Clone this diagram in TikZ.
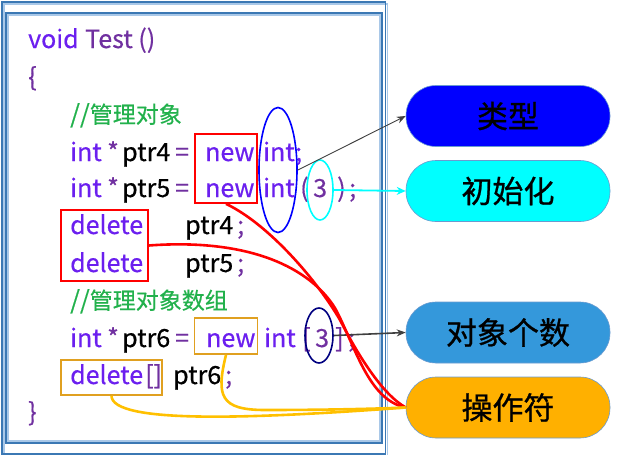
\documentclass[tikz,border=0pt]{standalone}
\usepackage{fontspec}
\setmainfont{Carlito}
\newfontfamily\cjk[FakeBold=0.5]{Noto Sans CJK SC}
\newfontfamily\cjklab[FakeBold=0.8]{Noto Sans CJK SC}
\usetikzlibrary{shapes.geometric,arrows.meta}
\definecolor{kw}{HTML}{6B1FEF}
\definecolor{pur}{HTML}{7030A0}
\definecolor{cm}{HTML}{22B14C}
\definecolor{fr}{HTML}{3B78B4}
\definecolor{frl}{HTML}{A9C8E8}
\definecolor{redl}{HTML}{FF0000}
\definecolor{orl}{HTML}{FFC000}
\definecolor{obox}{HTML}{E0A020}
\definecolor{tbox}{HTML}{3498DB}
\definecolor{obg}{HTML}{FFB000}
\definecolor{arr}{HTML}{404040}
\definecolor{bord}{HTML}{6A9BD0}
\definecolor{cyn}{HTML}{00FFFF}
\definecolor{blu}{HTML}{0000FF}
\definecolor{nav}{HTML}{000080}
\tikzset{
  code/.style={font=\fontsize{25}{30}\selectfont\cjk, anchor=base west, inner sep=0pt},
  label/.style={rectangle, rounded corners=30pt, minimum width=204pt, minimum height=61pt,
    draw=bord, line width=0.6pt, font=\fontsize{31}{36}\selectfont\cjklab, text=black},
  rbox/.style={draw=redl, line width=1.6pt, inner sep=0pt},
  obx/.style={draw=obox, line width=1.6pt, inner sep=0pt},
  ell/.style={ellipse, inner sep=0pt, line width=1.6pt},
  redc/.style={draw=redl, line width=2.6pt},
  orc/.style={draw=orl, line width=2.6pt},
  garrow/.style={draw=arr, -{Stealth[length=9pt,width=7pt]}},
}
\begin{document}
\begin{tikzpicture}[x=1pt,y=-1pt]
\useasboundingbox (0,0) rectangle (622,455);
% frames
\draw[frl, line width=1.2pt] (4,4) rectangle (387.5,456);
\draw[fr, line width=1.4pt] (2,2) rectangle (385.5,454);
\draw[frl, line width=1.6pt] (8,15) rectangle (380,441);
\draw[fr, line width=1.8pt] (6,13) rectangle (382,443);
% code
\node[code] (l1a) at (28,48) {\color{kw}void};
\node[code] (l1b) at (85,48) {\color{pur}Test ()};
\node[code] (l2) at (28,86) {\color{pur}\{};
\node[code] (l3) at (70,123) {\color{cm}//{\fontsize{23}{28}\selectfont 管理对象}};
\node[code] (l4a) at (70,161) {\color{kw}int};
\node[code] (l4b) at (107,161) {\color{pur}*};
\node[code] (l4c) at (122,161) {ptr4};
\node[code] (l4d) at (175,161) {\color{pur}=};
\node[code] (l4e) at (205,161) {\color{kw}new};
\node[code] (l4f) at (263,161) {\color{kw}int;};
\node[code] (l5a) at (70,197) {\color{kw}int};
\node[code] (l5b) at (107,197) {\color{pur}*};
\node[code] (l5c) at (122,197) {ptr5};
\node[code] (l5d) at (175,197) {\color{pur}=};
\node[code] (l5e) at (205,197) {\color{kw}new};
\node[code] (l5f) at (263,197) {\color{kw}int};
\node[code] (l5g) at (300,197) {\color{pur}(};
\node[code] (l5h) at (313,197) {\color{pur}3};
\node[code] (l5i) at (337,197) {\color{pur})};
\node[code] (l5j) at (349,197) {\color{pur};};
\node[code] (l6a) at (70,234) {\color{kw}delete};
\node[code] (l6b) at (185,234) {ptr4};
\node[code] (l6c) at (237,234) {\color{pur};};
\node[code] (l7a) at (70,272) {\color{kw}delete};
\node[code] (l7b) at (185,272) {ptr5};
\node[code] (l7c) at (237,272) {\color{pur};};
\node[code] (l8) at (70,309) {\color{cm}//{\fontsize{23}{28}\selectfont 管理对象数组}};
\node[code] (l9a) at (70,347) {\color{kw}int};
\node[code] (l9b) at (107,347) {\color{pur}*};
\node[code] (l9c) at (122,347) {ptr6};
\node[code] (l9d) at (175,347) {\color{pur}=};
\node[code] (l9e) at (206,347) {\color{kw}new};
\node[code] (l9f) at (264,347) {\color{kw}int};
\node[code] (l9g) at (302,347) {\color{pur}[};
\node[code] (l9h) at (315,347) {\color{pur}3};
\node[code] (l9i) at (335,347) {\color{pur}]};
\node[code] (l9j) at (348,347) {\color{pur};};
\node[code] (l10a) at (70,384) {\color{kw}delete};
\node[code] (l10b) at (145,384) {\color{pur}[]};
\node[code] (l10c) at (173,384) {ptr6};
\node[code] (l10d) at (225,384) {\color{pur};};
\node[code] (l11) at (28,421) {\color{pur}\}};
% annotation shapes
\node[rbox, minimum width=62pt, minimum height=69pt] (rb1) at (226,168.5) {};
\node[rbox, minimum width=87pt, minimum height=71pt] (rb2) at (104.5,245.5) {};
\node[obx, minimum width=63pt, minimum height=36pt] (ob1) at (226,336) {};
\node[obx, minimum width=101pt, minimum height=35pt] (ob2) at (111.5,377.5) {};
\node[ell, draw=blu, minimum width=38pt, minimum height=125pt] (e1) at (278,170) {};
\node[ell, draw=cyn, minimum width=26pt, minimum height=60pt] (e2) at (320,190) {};
\node[ell, draw=nav, minimum width=28pt, minimum height=55pt] (e3) at (319,335.5) {};
% labels
\node[label, fill=blu] (t1) at (508,116) {类型};
\node[label, fill=cyn] (t2) at (508,191) {初始化};
\node[label, fill=tbox] (t3) at (508,332.5) {对象个数};
\node[label, fill=obg] (t4) at (508,407.5) {操作符};
% connectors
\draw[garrow, line width=0.9pt] (e1.east) -- (t1.west);
\draw[draw=cyn, line width=1.8pt, -{Stealth[length=9pt,width=8pt]}] (e2.east) -- (t2.west);
\draw[garrow, line width=1.6pt] (e3.east) -- (t3.west);
\draw[redc] (rb1.south) .. controls (270,225) and (318,282) .. (340,320) .. controls (358,355) and (382,394) .. (t4.west);
\draw[redc] (rb2.east) .. controls (250,238) and (310,268) .. (335,308) .. controls (355,345) and (368,400) .. (t4.west);
\draw[orc] (ob2.south) .. controls (112,424) and (250,419) .. (t4.west);
\draw[orc] (ob1.south) .. controls (216,396) and (220,410) .. (265,410) .. controls (320,410) and (370,409) .. (t4.west);
\end{tikzpicture}
\end{document}
